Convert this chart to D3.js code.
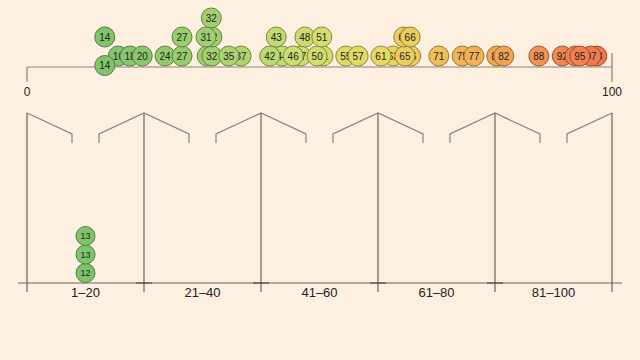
<!DOCTYPE html>
<html><head><meta charset="utf-8">
<script src="https://cdn.jsdelivr.net/npm/d3@7"></script>
<style>
html,body{margin:0;padding:0;background:#fdf0e0;}
svg{display:block;font-family:"Liberation Sans",Arial,sans-serif;}
</style></head>
<body>
<script>
// beeswarm (top) – values in draw order, their labels and swarm lanes
const swarmValues = [15.6,17.6,19.7,13.3,13.3,23.6,26.5,26.5,30.8,31.6,31.6,30.6,31.5,36.6,34.5,
  43.6,46.8,50.6,41.5,45.5,49.6,42.6,47.5,50.4,54.5,56.6,62.6,60.5,65.6,64.6,64.4,65.5,70.4,
  74.4,76.4,80.3,81.5,87.5,97.4,96.4,91.5,93.7,94.5];
const swarmLabels = [16,18,20,14,14,24,27,27,31,32,32,31,32,37,35,
  44,47,51,42,46,50,43,48,51,55,57,63,61,66,65,65,66,71,
  75,77,81,82,88,98,97,92,94,95];
const swarmLanes = [0,0,0,-0.5,1,0,0,1,0,0,1,1,2,0,0,
  0,0,0,0,0,0,1,1,1,0,0,0,0,0,0,1,1,0,
  0,0,0,0,0,0,0,0,0,0];
// histogram (bottom)
const binLabels = ["1–20","21–40","41–60","61–80","81–100"];
const binEdges = [0,20,40,60,80,100];
const stackedLabels = [12,13,13];
const stackedBin = [0,0,0];
const axisTicks = [0,100];

const W=640,H=360;
const svg=d3.select("body").append("svg").attr("width",W).attr("height",H);
svg.append("rect").attr("width",W).attr("height",H).attr("fill","#fdf0e0");

const x=d3.scaleLinear().domain([0,100]).range([27,612]);
const color=d3.scaleLinear().domain([10,30,45,60,75,100])
  .range(["#7ac26c","#9ecf6f","#c8dd70","#e9d962","#f2b556","#f3714f"]);
const r=10, rs=9.5;
const laneY=d3.scaleLinear().domain([0,1]).range([56,37]);

// top axis
const axisY=67;
svg.append("line").attr("x1",x(0)).attr("x2",x(100)).attr("y1",axisY).attr("y2",axisY)
  .attr("stroke","#8c8276").attr("stroke-width",1.2);
svg.selectAll(".atick").data(axisTicks).join("line")
  .attr("x1",d=>x(d)).attr("x2",d=>x(d)).attr("y1",d=>d===100?53:axisY).attr("y2",82)
  .attr("stroke","#8c8276").attr("stroke-width",1.2);
svg.selectAll(".alab").data(axisTicks).join("text")
  .attr("x",d=>x(d)).attr("y",96).attr("text-anchor","middle")
  .attr("font-size",12).attr("fill","#222").text(d=>d);

// funnels
const fy0=113,fy1=134,fy2=143,fdx=45;
const funnel=d3.line();
binEdges.forEach((e,i)=>{
  const bx=x(e); const pts=[];
  if(i>0) pts.push([bx-fdx,fy2],[bx-fdx,fy1]);
  pts.push([bx,fy0]);
  if(i<binEdges.length-1) pts.push([bx+fdx,fy1],[bx+fdx,fy2]);
  svg.append("path").attr("d",funnel(pts)).attr("fill","none")
    .attr("stroke","#8c8276").attr("stroke-width",1.2);
});

// histogram frame
const baseY=283;
svg.append("line").attr("x1",18).attr("x2",622).attr("y1",baseY).attr("y2",baseY)
  .attr("stroke","#6a6258").attr("stroke-width",1);
svg.selectAll(".edge").data(binEdges).join("line")
  .attr("x1",d=>x(d)).attr("x2",d=>x(d)).attr("y1",fy0).attr("y2",292)
  .attr("stroke","#5f574e").attr("stroke-width",1.1);
svg.selectAll(".etk").data(binEdges.slice(1,-1)).join("line")
  .attr("x1",d=>x(d)-8).attr("x2",d=>x(d)+8).attr("y1",baseY).attr("y2",baseY)
  .attr("stroke","#4a433b").attr("stroke-width",1.1);
svg.selectAll(".blab").data(binLabels).join("text")
  .attr("x",(d,i)=>(x(binEdges[i])+x(binEdges[i+1]))/2).attr("y",297)
  .attr("text-anchor","middle").attr("font-size",13).attr("fill","#222").text(d=>d);

// stacked circles
const sg=svg.selectAll(".sc").data(stackedLabels).join("g")
  .attr("transform",(d,i)=>{
    const b=stackedBin[i];
    const cx=(x(binEdges[b])+x(binEdges[b+1]))/2;
    const idx=stackedBin.slice(0,i).filter(v=>v===b).length;
    return `translate(${cx},${baseY-rs-0.5-idx*(2*rs-0.5)})`;});
sg.append("circle").attr("r",rs).attr("fill",d=>color(d))
  .attr("stroke",d=>d3.color(color(d)).darker(1.3)).attr("stroke-width",1);
sg.append("text").attr("text-anchor","middle").attr("dy","0.35em")
  .attr("font-size",9).attr("fill","#1a2a12").text(d=>d);

// swarm circles
const g=svg.selectAll(".bc").data(swarmValues).join("g")
  .attr("transform",(d,i)=>`translate(${x(d)},${laneY(swarmLanes[i])})`);
g.append("circle").attr("r",r).attr("fill",d=>color(d))
  .attr("stroke",d=>d3.color(color(d)).darker(1.3)).attr("stroke-width",1);
g.append("text").attr("text-anchor","middle").attr("dy","0.35em")
  .attr("font-size",10).attr("fill","#222").text((d,i)=>swarmLabels[i]);
</script>
</body></html>
